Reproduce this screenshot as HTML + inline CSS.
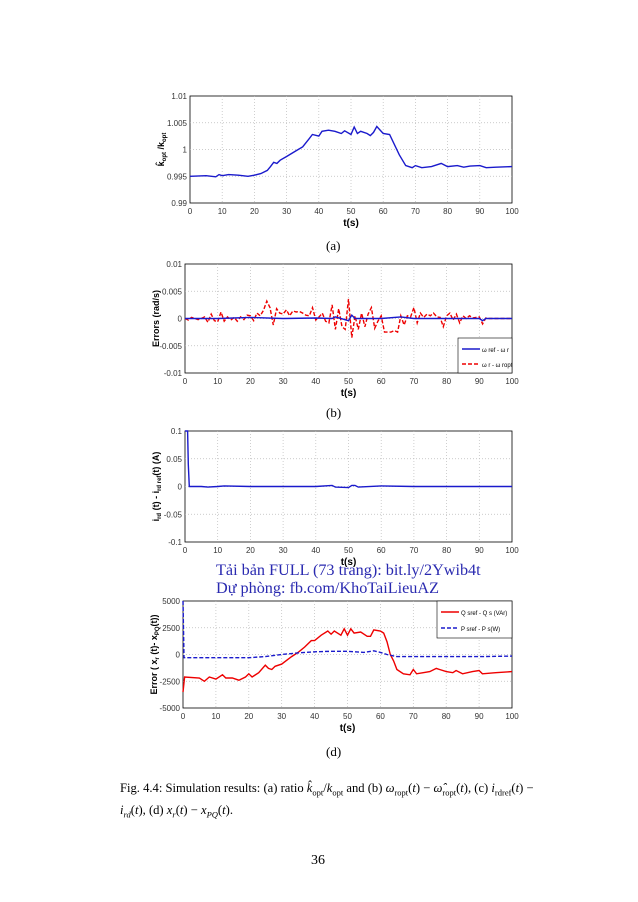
<!DOCTYPE html>
<html><head><meta charset="utf-8"><style>
body{margin:0;background:#fff;width:638px;height:902px;overflow:hidden;position:relative;font-family:"Liberation Serif",serif}
svg{position:absolute;left:0;top:0}
.cap{position:absolute;font-size:13px;color:#000}
sub{font-size:8.5px;line-height:0}
</style></head><body>
<svg id="s" width="638" height="902"></svg>
<div class="cap" style="left:326px;top:238px">(a)</div>
<div class="cap" style="left:326px;top:405px">(b)</div>
<div class="cap" style="left:326px;top:744px">(d)</div>
<div style="position:absolute;left:216px;top:561px;font-size:16.2px;color:#2a2ab0;line-height:18px">Tải bản FULL (73 trang): bit.ly/2Ywib4t<br>Dự phòng: fb.com/KhoTaiLieuAZ</div>
<div class="cap" style="left:120px;top:777px;font-size:12.6px;line-height:22px;white-space:nowrap">Fig. 4.4: Simulation results: (a) ratio <i>k̂</i><sub>opt</sub>/<i>k</i><sub>opt</sub> and (b) <i>ω</i><sub>ropt</sub>(<i>t</i>) − <i>ω̂</i><sub>ropt</sub>(<i>t</i>), (c) <i>i</i><sub>rdref</sub>(<i>t</i>) −<br><i>i<sub>rd</sub></i>(<i>t</i>), (d) <i>x<sub>r</sub></i>(<i>t</i>) − <i>x<sub>PQ</sub></i>(<i>t</i>).</div>
<div class="cap" style="left:311px;top:853px;font-size:14px">36</div>
<script>
const xTicks=[0,10,20,30,40,50,60,70,80,90,100];
const aTicks=["0.99","0.995","1","1.005","1.01"];
const aX=[0,5,8,9,10,12,15,18,20,22,24,25,26,27,28,30,33,35,37,38,40,41,43,45,47,48,50,51,52,53,55,56,57,58,60,62,65,67,69,70,72,75,78,80,83,85,87,90,92,95,100];
const aY=[.9950,.9951,.9949,.9953,.9951,.9953,.9952,.9950,.9952,.9955,.9961,.9968,.9976,.9974,.9980,.9987,.9998,1.0005,1.0020,1.0028,1.0025,1.0034,1.0036,1.0034,1.0030,1.0035,1.0028,1.0042,1.0030,1.0034,1.0030,1.0026,1.0032,1.0043,1.0030,1.0028,.9990,.9970,.9966,.9970,.9966,.9968,.9974,.9968,.9970,.9967,.9969,.9970,.9966,.9967,.9968];
const bTicks=["-0.01","-0.005","0","0.005","0.01"];
const bRed=[0,-0.3,0.2,0,-0.2,0,0.3,-0.7,0.8,-0.4,-0.6,1.2,-0.5,0.3,-0.3,0.2,-0.5,0.3,-0.2,0.6,0.5,-0.4,1.0,0.5,1.5,3.2,2.0,-1.2,1.8,1.0,0.8,1.6,0.5,1.4,1.2,1.3,1.0,0.6,0.5,2.0,-0.3,0.3,1.0,-0.5,-0.8,2.5,-2.0,1.8,-1.5,-2.0,3.6,-3.5,0.5,-2.0,1.0,-1.5,0.8,2.0,-1.8,-0.5,0.5,-2.5,-2.5,-2.5,-2.2,-2.5,0.5,-1.2,0.5,0.3,2.0,-0.8,1.0,0.2,0.8,0.5,1.0,0.3,0.2,-1.5,0.5,1.0,-0.3,0.8,-0.8,0.5,0,0.5,0.1,0.2,0.3,-1.0,0.1,0,0,0,0,0,0,0,0];
const bBlueX=[0,10,20,30,40,45,46,50,51,52,60,66,70,80,90,91,92,100];
const bBlue=[0,0,0.2,0,0.1,0,0.3,-0.4,0.6,0,0,0.3,0,0,0,-0.4,0,0];
const cTicks=["-0.1","-0.05","0","0.05","0.1"];
const cX=[0,0.8,1.0,1.3,5,7,10,12,20,30,40,45,46,50,51,52,53,60,70,80,90,100];
const cY=[0.1,0.1,0.04,0,0,-0.001,0,0.001,0,0,0,0.002,-0.001,-0.002,0.002,0.002,-0.001,0.001,0,0,0,0];
const dTicks=["-5000","-2500","0","2500","5000"];
const dQx=[0,0.5,5,6.5,8,10,12,13,15,17,19,20,21,23,25,26,27,28,30,33,35,37,39,40,42,44,45,46,48,49,50,51,52,54,56,57,58,60,61,62,63,64,65,67,69,70,71,73,75,77,78,80,82,83,85,88,90,91,95,100];
const dQ=[-3500,-2100,-2200,-2500,-2100,-2300,-1900,-2200,-2200,-2400,-2100,-1800,-2100,-1700,-1000,-1300,-1400,-1100,-900,-200,200,700,1300,1300,1800,2200,1900,2200,1800,2400,1800,2400,2000,2100,1700,1700,2300,2200,2000,1200,0,-600,-1400,-1800,-1900,-1400,-1800,-1700,-1600,-1300,-1400,-1600,-1700,-1500,-1800,-1600,-1500,-1800,-1700,-1600];
const dPx=[0,0.3,1,10,20,25,30,35,40,45,50,55,58,60,62,65,70,80,90,100];
const dP=[5000,-300,-300,-300,-300,-200,0,150,250,300,300,200,350,200,0,-200,-200,-200,-200,-150];
const NS='http://www.w3.org/2000/svg';const svg=document.getElementById('s');
function el(t,a,p){const e=document.createElementNS(NS,t);for(const k in a)e.setAttribute(k,a[k]);(p||svg).appendChild(e);return e;}
function plot(name,L,T,R,B,ymin,ymax,ticks,ylabel){
 const g=el('g',{});
 const sx=v=>L+(v/100)*(R-L), sy=v=>B-(v-ymin)/(ymax-ymin)*(B-T);
 el('rect',{x:L,y:T,width:R-L,height:B-T,fill:'#fff',stroke:'#000','stroke-width':0.8},g);
 xTicks.forEach(t=>{const x=sx(t);
  if(t>0&&t<100){const ln=el('line',{x1:x,x2:x,y1:T,y2:B,stroke:'#bbb','stroke-dasharray':'1,2','stroke-width':0.7},g);}
  const tx=el('text',{x:x,y:B+11,'font-size':8,'text-anchor':'middle','font-family':'Liberation Sans, sans-serif',fill:'#333'},g);tx.textContent=t;});
 ticks.forEach((t,i)=>{const v=ymin+i*(ymax-ymin)/(ticks.length-1);const y=sy(v);
  if(i>0&&i<ticks.length-1){const ln=el('line',{x1:L,x2:R,y1:y,y2:y,stroke:'#bbb','stroke-dasharray':'1,2','stroke-width':0.7},g);}
  const tx=el('text',{x:L-3,y:y+3,'font-size':8,'text-anchor':'end','font-family':'Liberation Sans, sans-serif',fill:'#333'},g);tx.textContent=t;});
 const xl=el('text',{x:(L+R)/2,y:B+23,'font-size':10,'font-weight':'bold','text-anchor':'middle','font-family':'Liberation Sans, sans-serif'},g);xl.textContent='t(s)';
 const yl=el('text',{x:0,y:0,'font-size':9,'font-weight':'bold','text-anchor':'middle','font-family':'Liberation Sans, sans-serif',transform:`translate(${L-26},${(T+B)/2}) rotate(-90)`},g);yl.innerHTML=ylabel;
 return {g,line:(xs,ys,col,dash,nm)=>{const d=xs.map((x,i)=>(i?'L':'M')+sx(x).toFixed(1)+','+sy(ys[i]).toFixed(1)).join('');const p=el('path',{d,fill:'none',stroke:col,'stroke-width':1.4,'stroke-dasharray':dash||'none'},g);}};
}
const pa=plot('chart-a-kopt-ratio',190,96,512,203,0.99,1.01,aTicks,'k̂<tspan font-size="6" dy="2">opt</tspan><tspan dy="-2"> /k</tspan><tspan font-size="6" dy="2">opt</tspan>');
pa.line(aX,aY,'#1a1acc','','series-kopt-ratio');
const pb=plot('chart-b-speed-errors',185,264,512,373,-10,10,bTicks,'Errors (rad/s)');
pb.line(bRed.map((v,i)=>i),bRed,'#e00','4,2','series-omega-r-error');
pb.line(bBlueX,bBlue,'#1a1acc','','series-omega-ref-error');
const lb=el('g',{},pb.g);
el('rect',{x:458,y:338,width:54,height:35,fill:'#fff',stroke:'#000','stroke-width':0.6},lb);
el('line',{x1:462,x2:480,y1:349,y2:349,stroke:'#1a1acc','stroke-width':1.4},lb);
el('line',{x1:462,x2:480,y1:364,y2:364,stroke:'#e00','stroke-width':1.4,'stroke-dasharray':'4,2'},lb);
let t1=el('text',{x:482,y:352,'font-size':6,'font-family':'Liberation Sans, sans-serif'},lb);t1.textContent='ω ref - ω r';
let t2=el('text',{x:482,y:367,'font-size':6,'font-family':'Liberation Sans, sans-serif'},lb);t2.textContent='ω r - ω ropt';
const pc=plot('chart-c-current-error',185,431,512,542,-0.1,0.1,cTicks,'i<tspan font-size="6" dy="2">rd</tspan><tspan dy="-2"> (t) - i</tspan><tspan font-size="6" dy="2">rd ref</tspan><tspan dy="-2">(t) (A)</tspan>');
pc.line(cX,cY,'#1a1acc','','series-ird-error');
const pd=plot('chart-d-power-error',183,601,512,708,-5000,5000,dTicks,'Error  ( x<tspan font-size="6" dy="2">r</tspan><tspan dy="-2"> (t)-  x</tspan><tspan font-size="6" dy="2">PQ</tspan><tspan dy="-2">(t))</tspan>');
pd.line(dQx,dQ,'#e00','','series-q-error');
pd.line(dPx,dP,'#1a1acc','4,2','series-p-error');
const ld=el('g',{},pd.g);
el('rect',{x:437,y:601,width:75,height:37,fill:'#fff',stroke:'#000','stroke-width':0.6},ld);
el('line',{x1:441,x2:459,y1:612,y2:612,stroke:'#e00','stroke-width':1.4},ld);
el('line',{x1:441,x2:459,y1:628,y2:628,stroke:'#1a1acc','stroke-width':1.4,'stroke-dasharray':'4,2'},ld);
let t3=el('text',{x:461,y:615,'font-size':6,'font-family':'Liberation Sans, sans-serif'},ld);t3.textContent='Q sref - Q s  (VAr)';
let t4=el('text',{x:461,y:631,'font-size':6,'font-family':'Liberation Sans, sans-serif'},ld);t4.textContent='P sref - P s(W)';
</script>
</body></html>
